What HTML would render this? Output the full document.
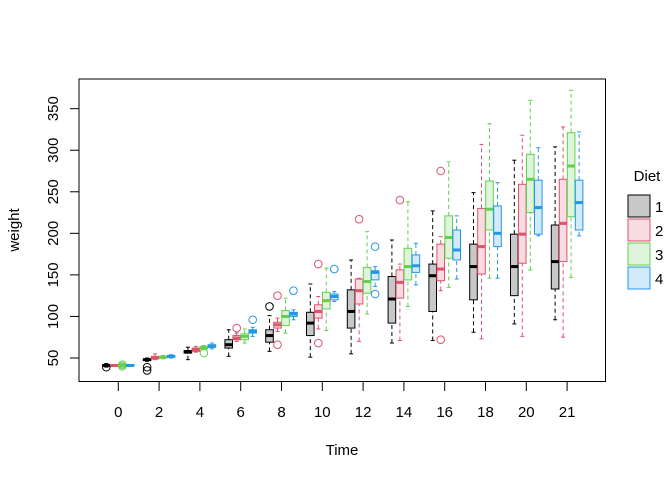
<!DOCTYPE html>
<html><head><meta charset="utf-8"><style>
body{margin:0;background:#fff;}
svg text{font-family:"Liberation Sans",sans-serif;font-size:15px;fill:#000;}
</style></head><body>
<svg id="chart" width="672" height="480" viewBox="0 0 672 480" xmlns="http://www.w3.org/2000/svg">
<rect x="79" y="79" width="526.5" height="302.5" fill="none" stroke="#000" stroke-width="1"/>
<g id="yaxis"></g>
<g id="xaxis"></g>
<g id="boxes"></g>
<text x="342" y="455" text-anchor="middle">Time</text>
<text x="19" y="230" text-anchor="middle" transform="rotate(-90 19 230)">weight</text>
<g id="legend">
<text x="647" y="181" text-anchor="middle">Diet</text>
</g>
</svg>
<script>
const times = ["0","2","4","6","8","10","12","14","16","18","20","21"];
const diets = ["1","2","3","4"];
const yTicks = [50,100,150,200,250,300,350];
// each entry: [lowWhisker, q1, median, q3, highWhisker], per time, per diet
const diet1 = [[39,41,41,42,43],[46,47,48,49,50],[48,56,57,59,63],[52,62,66,72,84],[58,69,77,84,101],[51,77,92,105,139],[55,86,106,132,168],[68,92,121,148,192],[71,106,149,163,227],[81,120,160,187,249],[91,125,160,199,288],[96,133,166,210,304]];
const diet2 = [[40,41,41,42,42],[48,49,50,52,55],[57,58,60,62,64],[70,72,74,77,80],[82,86,90,93,98],[85,98,106,114,124],[70,115,131,145,146],[71,122,141,156,163],[131,143,157,187,196],[73,151,184,230,307],[76,164,199,259,318],[75,166,212,265,328]];
const diet3 = [[39,40,41,42,43],[49,50,51,52,53],[60,61,62,64,65],[68,72,76,79,85],[80,89,100,107,122],[83,109,119,129,158],[103,128,142,159,202],[112,144,160,182,238],[135,170,195,221,286],[146,204,229,263,332],[156,225,265,295,360],[147,220,281,321,372]];
const diet4 = [[40,41,41,42,42],[50,51,52,53,54],[61,63,64,66,68],[76,80,82,84,87],[96,100,103,105,108],[118,120,124,127,130],[136,144,153,155,160],[138,153,161,174,188],[145,168,180,204,221],[146,184,200,233,261],[197,199,231,264,303],[197,204,237,264,322]];
// outliers: [timeIndex, value]
const out1 = [[0,39],[1,39],[1,35],[4,112]];
const out2 = [[3,86],[4,125],[4,66],[5,163],[5,68],[6,217],[7,240],[8,275],[8,72]];
const out3 = [[0,40],[0,42],[2,56]];
const out4 = [[3,96],[4,131],[5,157],[6,184],[6,127]];

const series = [diet1,diet2,diet3,diet4];
const outs = [out1,out2,out3,out4];
const stroke = ["#000000","#DF536B","#61D04F","#2297E6"];
const fill = ["#c8c8c8","#f9dce1","#dff5db","#d3eafa"];
const NS = "http://www.w3.org/2000/svg";
function yS(v){return 358 - (v-50)*0.8311;}
function xS(i){return 118.3 + i*40.8;}
function mk(tag, attrs, parent){const e=document.createElementNS(NS,tag);for(const k in attrs)e.setAttribute(k,attrs[k]);parent.appendChild(e);return e;}
const ya=document.getElementById('yaxis'), xa=document.getElementById('xaxis'), bx=document.getElementById('boxes'), lg=document.getElementById('legend');
mk('line',{x1:79,x2:79,y1:yS(yTicks[0]),y2:yS(yTicks[yTicks.length-1]),stroke:'#000'},ya);
yTicks.forEach(v=>{
  const l=mk('line',{x1:70,x2:79,y1:yS(v),y2:yS(v),stroke:'#000'},ya);
  
  
  const t=mk('text',{x:58,y:yS(v),'text-anchor':'middle',transform:'rotate(-90 58 '+yS(v)+')'},ya);
  
  
  t.textContent=v;
});
times.forEach((tm,i)=>{
  const l=mk('line',{x1:xS(i),x2:xS(i),y1:381.5,y2:391,stroke:'#000'},xa);
  
  
  const t=mk('text',{x:xS(i),y:417,'text-anchor':'middle'},xa);
  
  
  t.textContent=tm;
});
const offs=[-12,-4,4,12], hw=3.8;
series.forEach((s,d)=>{
  s.forEach((q,i)=>{
    const cx=xS(i)+offs[d];
    const g=mk('g',{},bx);
    
    
    mk('line',{x1:cx,x2:cx,y1:yS(q[3]),y2:yS(q[4]),stroke:stroke[d],'stroke-dasharray':'4,3'},g);
    mk('line',{x1:cx,x2:cx,y1:yS(q[0]),y2:yS(q[1]),stroke:stroke[d],'stroke-dasharray':'4,3'},g);
    mk('line',{x1:cx-2,x2:cx+2,y1:yS(q[4]),y2:yS(q[4]),stroke:stroke[d]},g);
    mk('line',{x1:cx-2,x2:cx+2,y1:yS(q[0]),y2:yS(q[0]),stroke:stroke[d]},g);
    mk('rect',{x:cx-hw,y:yS(q[3]),width:2*hw,height:Math.max(0.5,yS(q[1])-yS(q[3])),fill:fill[d],stroke:stroke[d]},g);
    mk('line',{x1:cx-hw,x2:cx+hw,y1:yS(q[2]),y2:yS(q[2]),stroke:stroke[d],'stroke-width':3},g);
  });
  outs[d].forEach(o=>{
    const c=mk('circle',{cx:xS(o[0])+offs[d],cy:yS(o[1]),r:3.8,fill:'none',stroke:stroke[d]},bx);
    
    
  });
  const ly=195+d*24;
  const r=mk('rect',{x:628,y:ly,width:22,height:22,fill:fill[d],stroke:stroke[d]},lg);
  
  
  const t=mk('text',{x:655,y:ly+17},lg);
  
  
  t.textContent=diets[d];
});
</script>
</body></html>
